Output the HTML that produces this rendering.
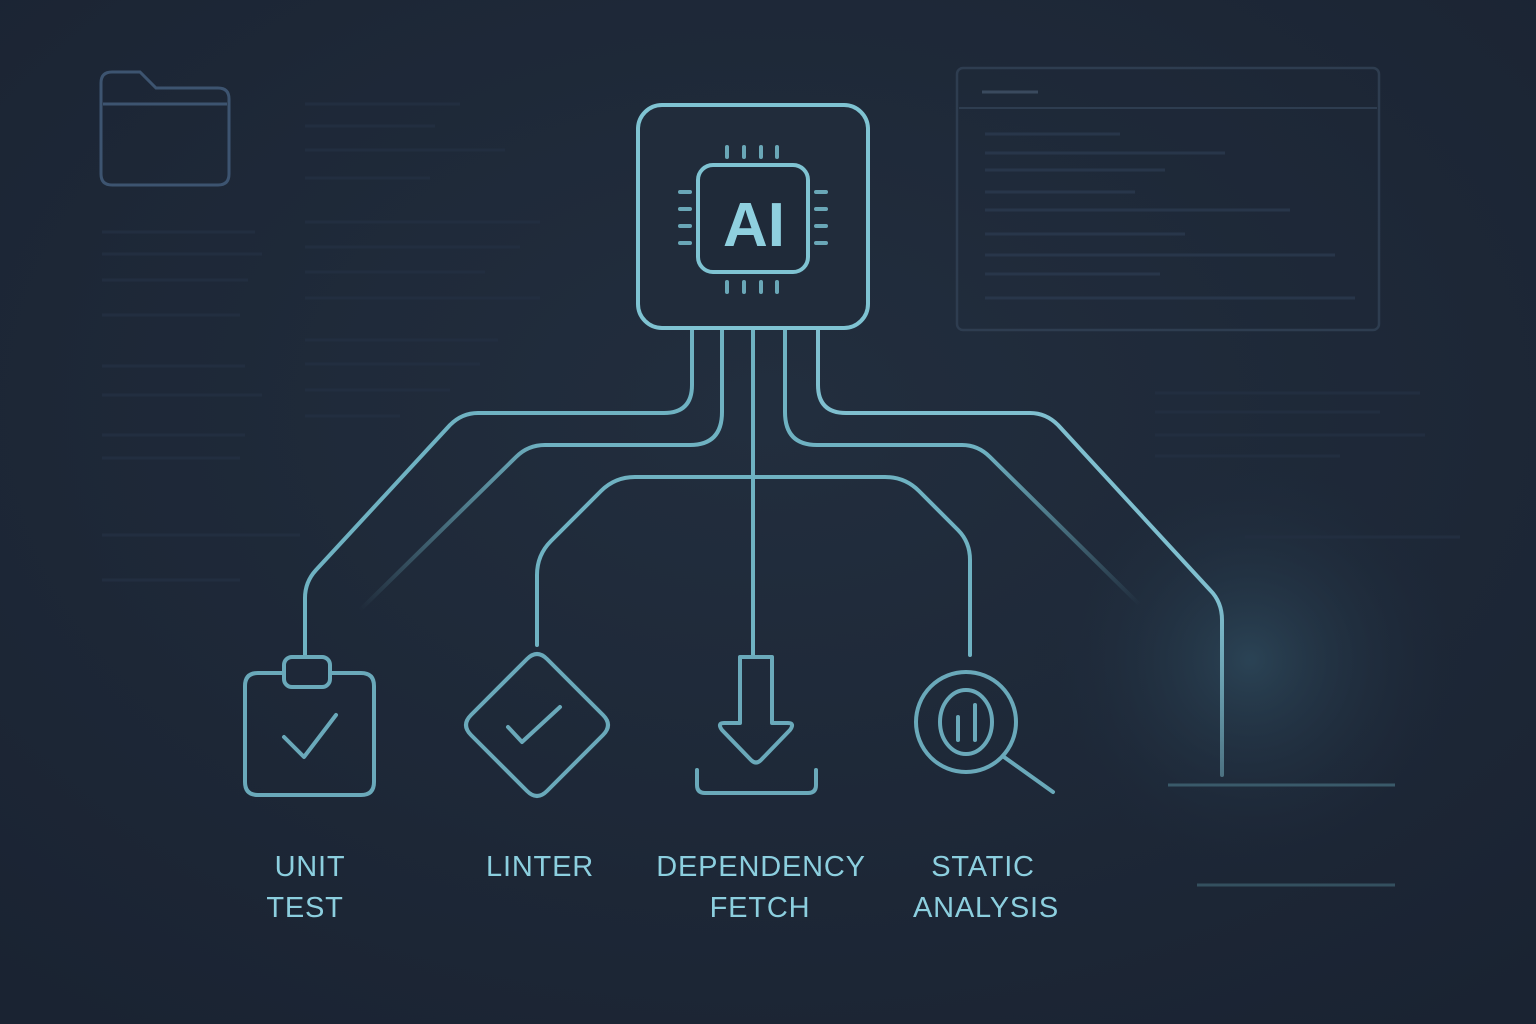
<!DOCTYPE html>
<html><head><meta charset="utf-8"><style>
html,body{margin:0;padding:0;background:#1c2636;}
svg{display:block}
</style></head><body>
<svg width="1536" height="1024" viewBox="0 0 1536 1024" xmlns="http://www.w3.org/2000/svg">
<defs>
<radialGradient id="bg" cx="50%" cy="40%" r="75%">
<stop offset="0" stop-color="#222e3e"/><stop offset="1" stop-color="#1a2332"/>
</radialGradient>
<radialGradient id="glow" cx="1250" cy="660" r="220" gradientUnits="userSpaceOnUse">
<stop offset="0" stop-color="#2c4658" stop-opacity="0.9"/><stop offset="1" stop-color="#1c2636" stop-opacity="0"/>
</radialGradient>
<linearGradient id="fadeL" x1="545" y1="445" x2="360" y2="610" gradientUnits="userSpaceOnUse">
<stop offset="0" stop-color="#6fb2c2"/><stop offset="1" stop-color="#6fb2c2" stop-opacity="0"/>
</linearGradient>
<linearGradient id="fadeR" x1="990" y1="445" x2="1140" y2="605" gradientUnits="userSpaceOnUse">
<stop offset="0" stop-color="#6fb2c2"/><stop offset="1" stop-color="#6fb2c2" stop-opacity="0"/>
</linearGradient>
<linearGradient id="fadeV" x1="0" y1="600" x2="0" y2="800" gradientUnits="userSpaceOnUse">
<stop offset="0" stop-color="#7fbfcf"/><stop offset="1" stop-color="#7fbfcf" stop-opacity="0.4"/>
</linearGradient>
</defs>
<rect width="1536" height="1024" fill="url(#bg)"/>
<rect width="1536" height="1024" fill="url(#glow)"/>

<!-- faint background -->
<g fill="none" stroke="#3d5470" stroke-width="3">
<path d="M112 72 H140 L156 88 H218 Q229 88 229 99 V174 Q229 185 218 185 H112 Q101 185 101 174 V83 Q101 72 112 72 Z"/>
<line x1="103" y1="104" x2="227" y2="104"/>
</g>
<rect x="957" y="68" width="422" height="262" rx="6" fill="none" stroke="#2e3d50" stroke-width="2.5"/>
<line x1="959" y1="108" x2="1377" y2="108" stroke="#2e3d50" stroke-width="2"/>
<line x1="982" y1="92" x2="1038" y2="92" stroke="#3a4a5e" stroke-width="3"/>
<g stroke="#28364a" stroke-width="3">
<line x1="985" y1="134" x2="1120" y2="134"/>
<line x1="985" y1="153" x2="1225" y2="153"/>
<line x1="985" y1="170" x2="1165" y2="170"/>
<line x1="985" y1="192" x2="1135" y2="192"/>
<line x1="985" y1="210" x2="1290" y2="210"/>
<line x1="985" y1="234" x2="1185" y2="234"/>
<line x1="985" y1="255" x2="1335" y2="255"/>
<line x1="985" y1="274" x2="1160" y2="274"/>
<line x1="985" y1="298" x2="1355" y2="298"/>
</g>
<g stroke="#222e40" stroke-width="3">
<line x1="305" y1="104" x2="460" y2="104"/><line x1="305" y1="126" x2="435" y2="126"/>
<line x1="305" y1="150" x2="505" y2="150"/><line x1="305" y1="178" x2="430" y2="178"/>
<line x1="305" y1="222" x2="540" y2="222"/><line x1="305" y1="247" x2="520" y2="247"/>
<line x1="305" y1="272" x2="485" y2="272"/><line x1="305" y1="298" x2="540" y2="298"/>
<line x1="305" y1="340" x2="498" y2="340"/><line x1="305" y1="364" x2="480" y2="364"/>
<line x1="305" y1="390" x2="450" y2="390"/><line x1="305" y1="416" x2="400" y2="416"/>
<line x1="102" y1="232" x2="255" y2="232"/><line x1="102" y1="254" x2="262" y2="254"/>
<line x1="102" y1="280" x2="248" y2="280"/><line x1="102" y1="315" x2="240" y2="315"/>
<line x1="102" y1="366" x2="245" y2="366"/><line x1="102" y1="395" x2="262" y2="395"/>
<line x1="102" y1="435" x2="245" y2="435"/><line x1="102" y1="458" x2="240" y2="458"/>
<line x1="102" y1="535" x2="300" y2="535"/><line x1="102" y1="580" x2="240" y2="580"/>
<line x1="1155" y1="393" x2="1420" y2="393"/><line x1="1155" y1="412" x2="1380" y2="412"/>
<line x1="1155" y1="435" x2="1425" y2="435"/><line x1="1155" y1="456" x2="1340" y2="456"/>
<line x1="1245" y1="537" x2="1460" y2="537"/>
</g>

<!-- connectors -->
<g fill="none" stroke="#6fb2c2" stroke-width="4" stroke-linecap="round" stroke-linejoin="round">
<path d="M692 328 V385 Q692 413 664 413 H478 Q462 413 450 425 L316 570 Q305 582 305 598 V657"/>
<path d="M722 328 V412 Q722 445 690 445 H545 Q528 445 516 457 L360 610" stroke="url(#fadeL)"/>
<path d="M753 328 V655"/>
<path d="M537 645 V575 Q537 555 551 541 L601 491 Q615 477 635 477 H885 Q905 477 919 491 L958 530 Q970 542 970 560 V655"/>
<path d="M785 328 V412 Q785 445 817 445 H962 Q978 445 990 457 L1140 605" stroke="url(#fadeR)"/>
<path d="M818 328 V385 Q818 413 846 413 H1030 Q1046 413 1058 425 L1210 590 Q1222 602 1222 620 V775" stroke="url(#fadeV)"/>
</g>
<line x1="1168" y1="785" x2="1395" y2="785" stroke="#3a5a6a" stroke-width="3"/>
<line x1="1197" y1="885" x2="1395" y2="885" stroke="#34505f" stroke-width="3"/>

<!-- AI box -->
<g fill="none" stroke="#7fc3d2" stroke-width="4" stroke-linecap="round">
<rect x="638" y="105" width="230" height="223" rx="24" fill="#212c3b"/>
<rect x="698" y="165" width="110" height="107" rx="15" fill="#1f2a39"/>
<g stroke="#6aa7b7" stroke-width="4">
<line x1="727" y1="147" x2="727" y2="157"/><line x1="744" y1="147" x2="744" y2="157"/><line x1="761" y1="147" x2="761" y2="157"/><line x1="777" y1="147" x2="777" y2="157"/>
<line x1="727" y1="282" x2="727" y2="292"/><line x1="744" y1="282" x2="744" y2="292"/><line x1="761" y1="282" x2="761" y2="292"/><line x1="777" y1="282" x2="777" y2="292"/>
<line x1="680" y1="192" x2="690" y2="192"/><line x1="680" y1="209" x2="690" y2="209"/><line x1="680" y1="226" x2="690" y2="226"/><line x1="680" y1="243" x2="690" y2="243"/>
<line x1="816" y1="192" x2="826" y2="192"/><line x1="816" y1="209" x2="826" y2="209"/><line x1="816" y1="226" x2="826" y2="226"/><line x1="816" y1="243" x2="826" y2="243"/>
</g>
</g>
<text x="754" y="246" text-anchor="middle" font-family="Liberation Sans, sans-serif" font-size="62" font-weight="bold" fill="#8fd0df">AI</text>

<!-- icons -->
<g fill="none" stroke="#6aa9ba" stroke-width="4" stroke-linecap="round" stroke-linejoin="round">
<path d="M283 673 H258 Q245 673 245 686 V782 Q245 795 258 795 H361 Q374 795 374 782 V686 Q374 673 361 673 H330"/>
<rect x="284" y="657" width="46" height="30" rx="8"/>
<polyline points="284,737 304,757 336,715"/>
<path d="M527 659 Q537 649 547 659 L603 715 Q613 725 603 735 L547 791 Q537 801 527 791 L471 735 Q461 725 471 715 Z"/>
<polyline points="508,727 522,742 560,707"/>
<path d="M740 657 H772 V723 H788 Q795 723 790 730 L761 760 Q756 765 751 760 L722 730 Q717 723 724 723 H740 Z"/>
<path d="M697 770 V785 Q697 793 705 793 H808 Q816 793 816 785 V770"/>
<circle cx="966" cy="722" r="50"/>
<ellipse cx="966" cy="722" rx="26" ry="32"/>
<line x1="958" y1="717" x2="958" y2="740"/><line x1="975" y1="705" x2="975" y2="740"/>
<line x1="1004" y1="757" x2="1053" y2="792"/>
</g>

<!-- labels -->
<g font-family="Liberation Sans, sans-serif" font-size="29" fill="#8ccfdf" text-anchor="middle" letter-spacing="0.8">
<text x="310" y="876">UNIT</text><text x="305" y="917">TEST</text>
<text x="540" y="876">LINTER</text>
<text x="761" y="876">DEPENDENCY</text><text x="760" y="917">FETCH</text>
<text x="983" y="876">STATIC</text><text x="986" y="917">ANALYSIS</text>
</g>
</svg>
</body></html>
